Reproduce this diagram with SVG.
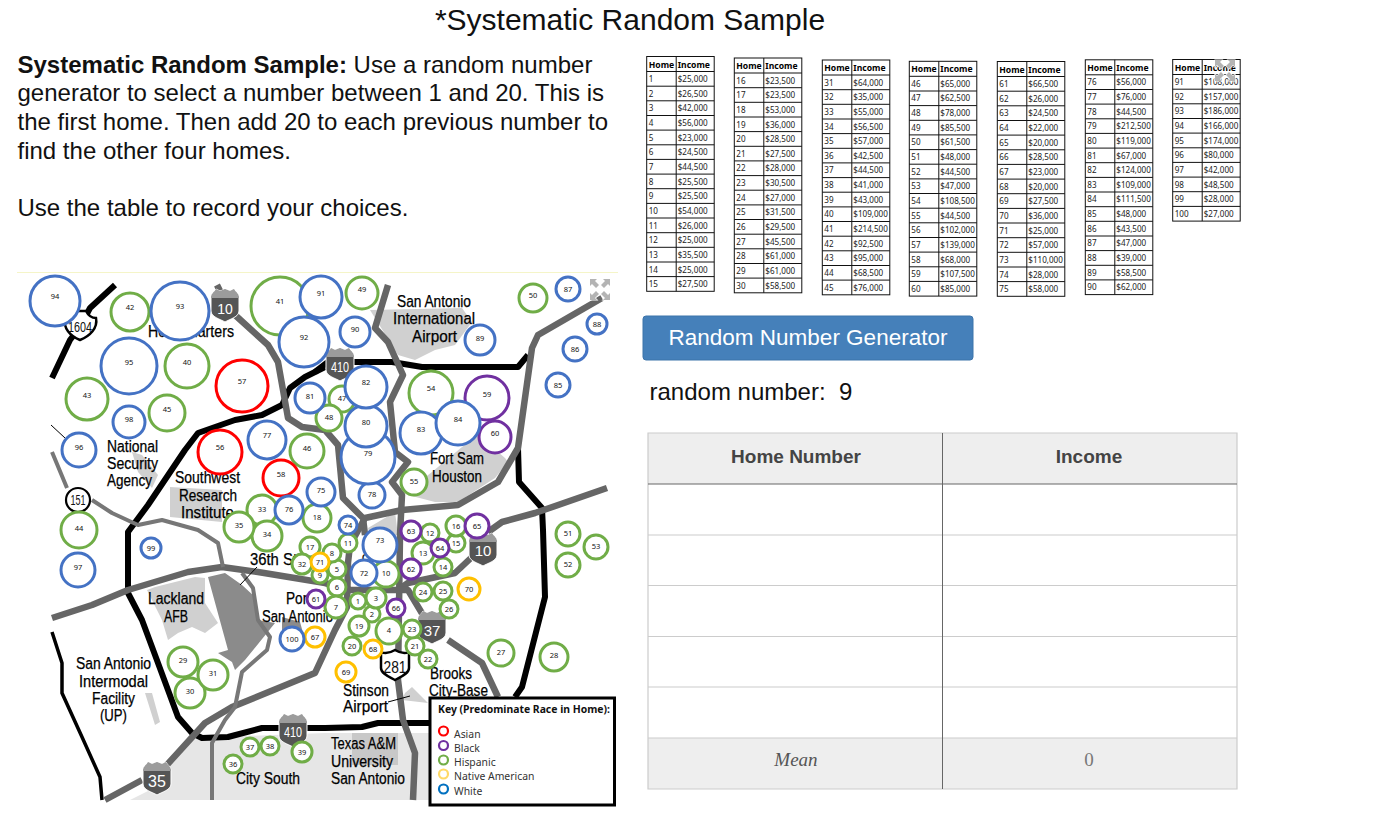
<svg xmlns="http://www.w3.org/2000/svg" width="1385" height="814" viewBox="0 0 1385 814">
<style>
text{font-family:"Liberation Sans",Arial,sans-serif}
.body{font-size:24px;fill:#111}
.cell text{font-family:"Noto Sans",sans-serif;font-size:8.1px;fill:#222}
.cell .h{font-weight:700;font-size:8.6px;fill:#000}
.gridline{fill:#fff;stroke:#111;stroke-width:1}
.rg{fill:none;stroke:#666;stroke-width:6.5;stroke-linejoin:round;stroke-linecap:butt}
.rg2{fill:none;stroke:#777;stroke-width:4;stroke-linejoin:round}
.rk{fill:none;stroke:#000;stroke-width:6;stroke-linejoin:round}
.thin{fill:none;stroke:#000;stroke-width:1}
.l1{fill:#d0d0d0}
.d1{fill:#8b8b8b}
.pl{font-size:16px;fill:#000;stroke:#000;stroke-width:.25px}
.b circle,.g circle,.r circle,.p circle,.y circle{fill:#fff;stroke-width:3}
.b circle{stroke:#4472c4}.g circle{stroke:#70ad47}.r circle{stroke:#ff0000}.p circle{stroke:#7030a0}.y circle{stroke:#ffc000}
.n text{font-family:"Noto Sans",sans-serif;font-size:7.5px;fill:#111;text-anchor:middle}
.ish{fill:#555;stroke:#fff;stroke-width:1}
.cap{fill:#9c9c9c}
.st{fill:#fff;text-anchor:middle}
.kt{font-family:"Noto Sans",sans-serif;font-size:10.4px;fill:#333}
.th{font-size:19px;font-weight:700;fill:#444;text-anchor:middle}
.tb{stroke:#ccc;stroke-width:1.2}
.td{stroke:#666;stroke-width:1}
.ic{fill:#b4b4b4;stroke:#fff;stroke-width:1.2;paint-order:stroke}
</style>
<defs>
<g id="grid15">
<rect class="gridline" x="0" y="0" width="67.5" height="234.8"/>
<path stroke="#111" stroke-width="1" d="M29.5,0V234.8M0,15H67.5M0,29.7H67.5M0,44.3H67.5M0,59H67.5M0,73.6H67.5M0,88.3H67.5M0,102.9H67.5M0,117.6H67.5M0,132.2H67.5M0,146.9H67.5M0,161.5H67.5M0,176.2H67.5M0,190.8H67.5M0,205.5H67.5M0,220.1H67.5"/>
</g>
<g id="grid10">
<rect class="gridline" x="0" y="0" width="67.5" height="161.6"/>
<path stroke="#111" stroke-width="1" d="M29.5,0V161.6M0,15H67.5M0,29.7H67.5M0,44.3H67.5M0,59H67.5M0,73.6H67.5M0,88.3H67.5M0,102.9H67.5M0,117.6H67.5M0,132.2H67.5M0,146.9H67.5"/>
</g>
<g id="ishield">
<path class="ish" d="M-14,-8C-14,-12-10,-13-9,-16L-5,-14 0,-16 5,-14 9,-16C10,-13 14,-12 14,-8L14,6C14,12 5,14 0,17C-5,14-14,12-14,6Z"/>
<path class="cap" d="M-14,-7C-14,-12-10,-13-9,-16L-5,-14 0,-16 5,-14 9,-16C10,-13 14,-12 14,-7Z"/>
</g>
<g id="expand">
<path class="ic" d="M0,0H7L5,2 9,6 6,9 2,5 0,7ZM20,0V7L18,5 14,9 11,6 15,2 13,0ZM0,21V14L2,16 6,12 9,15 5,19 7,21ZM20,21H13L15,19 11,15 14,12 18,16 20,14Z"/>
</g>
</defs>
<rect width="1385" height="814" fill="#fff"/>
<text x="630" y="30" text-anchor="middle" font-size="30" fill="#111">*Systematic Random Sample</text>
<g id="instructions" class="body">
<text class="body" x="17.5" y="73"><tspan font-weight="700">Systematic Random Sample:</tspan> Use a random number</text>
<text class="body" x="17.5" y="101">generator to select a number between 1 and 20. This is</text>
<text class="body" x="17.5" y="130">the first home. Then add 20 to each previous number to</text>
<text class="body" x="17.5" y="159">find the other four homes.</text>
<text class="body" x="17.5" y="216">Use the table to record your choices.</text>
</g>

<g id="t1" class="cell" transform="translate(646.7,56.5)"><use href="#grid15"/>
<text class="h" x="2" y="11">Home</text><text class="h" x="31" y="11">Income</text>
<text x="2" y="25.5">1</text><text x="31" y="25.5">$25,000</text><text x="2" y="40.2">2</text><text x="31" y="40.2">$26,500</text><text x="2" y="54.8">3</text><text x="31" y="54.8">$42,000</text><text x="2" y="69.5">4</text><text x="31" y="69.5">$56,000</text><text x="2" y="84.1">5</text><text x="31" y="84.1">$23,000</text><text x="2" y="98.8">6</text><text x="31" y="98.8">$24,500</text><text x="2" y="113.4">7</text><text x="31" y="113.4">$44,500</text><text x="2" y="128.1">8</text><text x="31" y="128.1">$25,500</text><text x="2" y="142.7">9</text><text x="31" y="142.7">$25,500</text><text x="2" y="157.4">10</text><text x="31" y="157.4">$54,000</text><text x="2" y="172">11</text><text x="31" y="172">$26,000</text><text x="2" y="186.7">12</text><text x="31" y="186.7">$25,000</text><text x="2" y="201.3">13</text><text x="31" y="201.3">$35,500</text><text x="2" y="216">14</text><text x="31" y="216">$25,000</text><text x="2" y="230.6">15</text><text x="31" y="230.6">$27,500</text>
</g>
<g id="t2" class="cell" transform="translate(734.3,58)"><use href="#grid15"/>
<text class="h" x="2" y="11">Home</text><text class="h" x="31" y="11">Income</text>
<text x="2" y="25.5">16</text><text x="31" y="25.5">$23,500</text><text x="2" y="40.2">17</text><text x="31" y="40.2">$23,500</text><text x="2" y="54.8">18</text><text x="31" y="54.8">$53,000</text><text x="2" y="69.5">19</text><text x="31" y="69.5">$36,000</text><text x="2" y="84.1">20</text><text x="31" y="84.1">$28,500</text><text x="2" y="98.8">21</text><text x="31" y="98.8">$27,500</text><text x="2" y="113.4">22</text><text x="31" y="113.4">$28,000</text><text x="2" y="128.1">23</text><text x="31" y="128.1">$30,500</text><text x="2" y="142.7">24</text><text x="31" y="142.7">$27,000</text><text x="2" y="157.4">25</text><text x="31" y="157.4">$31,500</text><text x="2" y="172">26</text><text x="31" y="172">$29,500</text><text x="2" y="186.7">27</text><text x="31" y="186.7">$45,500</text><text x="2" y="201.3">28</text><text x="31" y="201.3">$61,000</text><text x="2" y="216">29</text><text x="31" y="216">$61,000</text><text x="2" y="230.6">30</text><text x="31" y="230.6">$58,500</text>
</g>
<g id="t3" class="cell" transform="translate(822.3,60)"><use href="#grid15"/>
<text class="h" x="2" y="11">Home</text><text class="h" x="31" y="11">Income</text>
<text x="2" y="25.5">31</text><text x="31" y="25.5">$64,000</text><text x="2" y="40.2">32</text><text x="31" y="40.2">$35,000</text><text x="2" y="54.8">33</text><text x="31" y="54.8">$55,000</text><text x="2" y="69.5">34</text><text x="31" y="69.5">$56,500</text><text x="2" y="84.1">35</text><text x="31" y="84.1">$57,000</text><text x="2" y="98.8">36</text><text x="31" y="98.8">$42,500</text><text x="2" y="113.4">37</text><text x="31" y="113.4">$44,500</text><text x="2" y="128.1">38</text><text x="31" y="128.1">$41,000</text><text x="2" y="142.7">39</text><text x="31" y="142.7">$43,000</text><text x="2" y="157.4">40</text><text x="31" y="157.4">$109,000</text><text x="2" y="172">41</text><text x="31" y="172">$214,500</text><text x="2" y="186.7">42</text><text x="31" y="186.7">$92,500</text><text x="2" y="201.3">43</text><text x="31" y="201.3">$95,000</text><text x="2" y="216">44</text><text x="31" y="216">$68,500</text><text x="2" y="230.6">45</text><text x="31" y="230.6">$76,000</text>
</g>
<g id="t4" class="cell" transform="translate(909.3,61.3)"><use href="#grid15"/>
<text class="h" x="2" y="11">Home</text><text class="h" x="31" y="11">Income</text>
<text x="2" y="25.5">46</text><text x="31" y="25.5">$65,000</text><text x="2" y="40.2">47</text><text x="31" y="40.2">$62,500</text><text x="2" y="54.8">48</text><text x="31" y="54.8">$78,000</text><text x="2" y="69.5">49</text><text x="31" y="69.5">$85,500</text><text x="2" y="84.1">50</text><text x="31" y="84.1">$61,500</text><text x="2" y="98.8">51</text><text x="31" y="98.8">$48,000</text><text x="2" y="113.4">52</text><text x="31" y="113.4">$44,500</text><text x="2" y="128.1">53</text><text x="31" y="128.1">$47,000</text><text x="2" y="142.7">54</text><text x="31" y="142.7">$108,500</text><text x="2" y="157.4">55</text><text x="31" y="157.4">$44,500</text><text x="2" y="172">56</text><text x="31" y="172">$102,000</text><text x="2" y="186.7">57</text><text x="31" y="186.7">$139,000</text><text x="2" y="201.3">58</text><text x="31" y="201.3">$68,000</text><text x="2" y="216">59</text><text x="31" y="216">$107,500</text><text x="2" y="230.6">60</text><text x="31" y="230.6">$85,000</text>
</g>
<g id="t5" class="cell" transform="translate(997.3,61.5)"><use href="#grid15"/>
<text class="h" x="2" y="11">Home</text><text class="h" x="31" y="11">Income</text>
<text x="2" y="25.5">61</text><text x="31" y="25.5">$66,500</text><text x="2" y="40.2">62</text><text x="31" y="40.2">$26,000</text><text x="2" y="54.8">63</text><text x="31" y="54.8">$24,500</text><text x="2" y="69.5">64</text><text x="31" y="69.5">$22,000</text><text x="2" y="84.1">65</text><text x="31" y="84.1">$20,000</text><text x="2" y="98.8">66</text><text x="31" y="98.8">$28,500</text><text x="2" y="113.4">67</text><text x="31" y="113.4">$23,000</text><text x="2" y="128.1">68</text><text x="31" y="128.1">$20,000</text><text x="2" y="142.7">69</text><text x="31" y="142.7">$27,500</text><text x="2" y="157.4">70</text><text x="31" y="157.4">$36,000</text><text x="2" y="172">71</text><text x="31" y="172">$25,000</text><text x="2" y="186.7">72</text><text x="31" y="186.7">$57,000</text><text x="2" y="201.3">73</text><text x="31" y="201.3">$110,000</text><text x="2" y="216">74</text><text x="31" y="216">$28,000</text><text x="2" y="230.6">75</text><text x="31" y="230.6">$58,000</text>
</g>
<g id="t6" class="cell" transform="translate(1085.3,59.8)"><use href="#grid15"/>
<text class="h" x="2" y="11">Home</text><text class="h" x="31" y="11">Income</text>
<text x="2" y="25.5">76</text><text x="31" y="25.5">$56,000</text><text x="2" y="40.2">77</text><text x="31" y="40.2">$76,000</text><text x="2" y="54.8">78</text><text x="31" y="54.8">$44,500</text><text x="2" y="69.5">79</text><text x="31" y="69.5">$212,500</text><text x="2" y="84.1">80</text><text x="31" y="84.1">$119,000</text><text x="2" y="98.8">81</text><text x="31" y="98.8">$67,000</text><text x="2" y="113.4">82</text><text x="31" y="113.4">$124,000</text><text x="2" y="128.1">83</text><text x="31" y="128.1">$109,000</text><text x="2" y="142.7">84</text><text x="31" y="142.7">$111,500</text><text x="2" y="157.4">85</text><text x="31" y="157.4">$48,000</text><text x="2" y="172">86</text><text x="31" y="172">$43,500</text><text x="2" y="186.7">87</text><text x="31" y="186.7">$47,000</text><text x="2" y="201.3">88</text><text x="31" y="201.3">$39,000</text><text x="2" y="216">89</text><text x="31" y="216">$58,500</text><text x="2" y="230.6">90</text><text x="31" y="230.6">$62,000</text>
</g>
<g id="t7" class="cell" transform="translate(1172.7,59.5)"><use href="#grid10"/>
<text class="h" x="2" y="11">Home</text><text class="h" x="31" y="11">Income</text>
<text x="2" y="25.5">91</text><text x="31" y="25.5">$108,000</text><text x="2" y="40.2">92</text><text x="31" y="40.2">$157,000</text><text x="2" y="54.8">93</text><text x="31" y="54.8">$186,000</text><text x="2" y="69.5">94</text><text x="31" y="69.5">$166,000</text><text x="2" y="84.1">95</text><text x="31" y="84.1">$174,000</text><text x="2" y="98.8">96</text><text x="31" y="98.8">$80,000</text><text x="2" y="113.4">97</text><text x="31" y="113.4">$42,000</text><text x="2" y="128.1">98</text><text x="31" y="128.1">$48,500</text><text x="2" y="142.7">99</text><text x="31" y="142.7">$28,000</text><text x="2" y="157.4">100</text><text x="31" y="157.4">$27,000</text>
</g>
<use href="#expand" x="1215" y="60"/>

<g id="button">
<rect x="643" y="316" width="330" height="44" rx="3" fill="#4580ba" stroke="#3d74aa"/>
<text x="808" y="345" text-anchor="middle" font-size="22.5" fill="#fff">Random Number Generator</text>
</g>
<text class="body" x="649.5" y="400" style="white-space:pre">random number:  9</text>

<g id="record-table">
<rect x="648" y="433" width="589" height="51" fill="#eee"/>
<rect x="648" y="738" width="589" height="51" fill="#eee"/>
<path class="tb" fill="none" d="M648,433H1237V789H648ZM648,535H1237M648,585.5H1237M648,636.5H1237M648,687H1237M648,738H1237"/>
<path class="td" d="M648,484H1237M942.5,433V789"/>
<text class="th" x="796" y="463">Home Number</text>
<text class="th" x="1089" y="463">Income</text>
<text x="796" y="766" text-anchor="middle" font-size="19" font-style="italic" fill="#555" style="font-family:'Liberation Serif',serif">Mean</text>
<text x="1089" y="766" text-anchor="middle" font-size="19" fill="#777" style="font-family:'Liberation Serif',serif">0</text>
</g>

<g id="map">
<path d="M17,272.5H618" stroke="#f5f5c8" stroke-width="1.2"/>
<g id="areas">
<path fill="#e6e6e6" d="M167,760L192,738L325,733H430V800H130L150,790Z"/>
<path class="l1" d="M132,452L142,455L158,475L152,488L138,472Z"/>
<path class="l1" d="M170,487L222,490V522L170,517Z"/>
<path class="l1" d="M370,310L462,308L472,322L455,345L435,350L415,360L398,355Z"/>
<path class="l1" d="M468,442L478,435L505,458L508,462L495,478L458,502L435,502L408,495L415,485L432,472Z"/>
<path class="l1" d="M147,590L155,587L195,577L205,578L205,603L218,623L205,633L192,627L178,633L168,640L162,620Z"/>
<path class="d1" d="M208,577L225,573L242,585L255,597L258,620L275,623L245,660L235,670L232,662L218,653L228,650Z"/>
<path class="d1" d="M282,617L300,622L305,640H282Z"/>
<path class="l1" d="M145,693L152,693L160,722L155,725Z"/>
<path fill="#c8c8c8" d="M352,733H398V765H352Z"/>
<path class="l1" d="M368,528L395,512L398,535H370Z"/>
<path class="l1" d="M405,693L412,687L428,703L402,700Z"/>
</g>
<g id="connectors">
<path class="rk" d="M115,285L90,308L80,327L70,340L52,378"/>
<path class="rk" d="M325,367L305,377L290,388L282,405L262,415L235,420L198,433L185,450L148,505L128,532V593L142,620L158,663L178,717L192,733L202,738L228,737L262,728H325L362,727L378,723H430"/>
<path class="rk" d="M315,372L328,362H392L422,367H518L528,355"/>
<path class="rk" d="M518,448L519,482L542,508L543,530L545,597L522,687L515,697"/>
<path class="thin" style="stroke-width:3.5" d="M52,632L62,663V693L82,737L100,777L102,800"/>
<path class="rg" d="M217,285L222,295M235,315L268,345L278,362L288,418L302,427L325,430L338,445L343,498L363,518L365,535"/>
<path class="rg" d="M388,285L375,328L388,342L403,375L390,402L395,452L408,462L392,482L402,495L400,535L398,680L403,720L415,753L413,800"/>
<path class="rg" d="M602,298L538,335L532,348L518,448L498,482L458,505L402,510L365,518L350,545L348,563L347,607L335,630L315,673L232,707L205,723L165,767M142,780L105,800"/>
<path class="rg" d="M607,488L535,513L502,522L488,532M472,557L455,573L408,583L398,590"/>
<path class="rg" d="M348,590H408L432,630M448,640L482,663L498,697"/>
<path class="rg" d="M52,618L92,605L128,590L188,572L222,567L258,572L325,583L350,590"/>
<path class="rg2" d="M52,452L67,488M92,500L112,513L138,525L162,520L198,530L218,543L223,567"/>
<path class="rg2" d="M242,573L253,588L258,620L270,637L267,650L242,672L235,707L225,720L212,743V800"/>
<path class="thin" d="M51,425L65,438M257,567L240,585M388,702L410,696"/>
</g>
<g id="shields">
<use href="#ishield" x="225" y="305"/><text class="st" x="225" y="314" font-size="14">10</text>
<use href="#ishield" x="340" y="364"/><text class="st" x="340" y="372" font-size="14" textLength="18" lengthAdjust="spacingAndGlyphs">410</text>
<use href="#ishield" x="293" y="730"/><text class="st" x="293" y="737" font-size="14" textLength="18" lengthAdjust="spacingAndGlyphs">410</text>
<use href="#ishield" x="157" y="778"/><text class="st" x="157" y="787" font-size="16">35</text>
<use href="#ishield" x="483" y="549"/><text class="st" x="483" y="556" font-size="15">10</text>
<use href="#ishield" x="432" y="627"/><text class="st" x="432" y="636" font-size="15">37</text>
<path fill="#fff" stroke="#000" stroke-width="2.5" d="M65,318C69,318 73,315 75,311H86C88,315 92,318 96,318C98,328 90,336 80,340C70,336 63,328 65,318Z"/><text x="80" y="332" text-anchor="middle" font-size="14" textLength="24" lengthAdjust="spacingAndGlyphs" fill="#111">1604</text>
<circle cx="78" cy="500" r="12" fill="#fff" stroke="#000" stroke-width="2.2"/><text x="78" y="505" text-anchor="middle" font-size="14" textLength="15" lengthAdjust="spacingAndGlyphs" fill="#111">151</text>
<path fill="#fff" stroke="#000" stroke-width="2.5" d="M381,652C385,654 390,653 395,650C400,653 405,654 409,652V668C409,674 400,677 395,680C390,677 381,674 381,668Z"/><text x="395" y="673" text-anchor="middle" font-size="16" textLength="23" lengthAdjust="spacingAndGlyphs" fill="#111">281</text>
</g>
<g id="map-labels">
<text class="pl" x="397" y="307" textLength="74" lengthAdjust="spacingAndGlyphs">San Antonio</text>
<text class="pl" x="393" y="324" textLength="82" lengthAdjust="spacingAndGlyphs">International</text>
<text class="pl" x="412" y="342" textLength="45" lengthAdjust="spacingAndGlyphs">Airport</text>
<text class="pl" x="148" y="337" textLength="86" lengthAdjust="spacingAndGlyphs">Headquarters</text>
<text class="pl" x="107" y="452" textLength="51" lengthAdjust="spacingAndGlyphs">National</text>
<text class="pl" x="107" y="469" textLength="51" lengthAdjust="spacingAndGlyphs">Security</text>
<text class="pl" x="107" y="486" textLength="45" lengthAdjust="spacingAndGlyphs">Agency</text>
<text class="pl" x="175" y="483" textLength="65" lengthAdjust="spacingAndGlyphs">Southwest</text>
<text class="pl" x="179" y="501" textLength="58" lengthAdjust="spacingAndGlyphs">Research</text>
<text class="pl" x="181" y="518" textLength="53" lengthAdjust="spacingAndGlyphs">Institute</text>
<text class="pl" x="430" y="464" textLength="54" lengthAdjust="spacingAndGlyphs">Fort Sam</text>
<text class="pl" x="432" y="482" textLength="50" lengthAdjust="spacingAndGlyphs">Houston</text>
<text class="pl" x="250" y="565" textLength="47" lengthAdjust="spacingAndGlyphs">36th St</text>
<text class="pl" x="148" y="604" textLength="56" lengthAdjust="spacingAndGlyphs">Lackland</text>
<text class="pl" x="164" y="622" textLength="24" lengthAdjust="spacingAndGlyphs">AFB</text>
<text class="pl" x="286" y="604" textLength="25" lengthAdjust="spacingAndGlyphs">Port</text>
<text class="pl" x="262" y="622" textLength="71" lengthAdjust="spacingAndGlyphs">San Antonio</text>
<text class="pl" x="76" y="669" textLength="75" lengthAdjust="spacingAndGlyphs">San Antonio</text>
<text class="pl" x="79" y="687" textLength="69" lengthAdjust="spacingAndGlyphs">Intermodal</text>
<text class="pl" x="92" y="704" textLength="43" lengthAdjust="spacingAndGlyphs">Facility</text>
<text class="pl" x="100" y="721" textLength="27" lengthAdjust="spacingAndGlyphs">(UP)</text>
<text class="pl" x="236" y="784" textLength="64" lengthAdjust="spacingAndGlyphs">City South</text>
<text class="pl" x="343" y="696" textLength="46" lengthAdjust="spacingAndGlyphs">Stinson</text>
<text class="pl" x="343" y="712" textLength="45" lengthAdjust="spacingAndGlyphs">Airport</text>
<text class="pl" x="430" y="679" textLength="42" lengthAdjust="spacingAndGlyphs">Brooks</text>
<text class="pl" x="429" y="696" textLength="59" lengthAdjust="spacingAndGlyphs">City-Base</text>
<text class="pl" x="331" y="749" textLength="65" lengthAdjust="spacingAndGlyphs">Texas A&amp;M</text>
<text class="pl" x="331" y="767" textLength="62" lengthAdjust="spacingAndGlyphs">University</text>
<text class="pl" x="331" y="784" textLength="74" lengthAdjust="spacingAndGlyphs">San Antonio</text>
<text class="pl" x="362" y="562" style="font-size:10px">Cen</text>
</g>
<g id="homes" class="n">
<g id="h1" class="g"><circle cx="358" cy="601" r="8"/><text x="358" y="603.5">1</text></g>
<g id="h2" class="g"><circle cx="372" cy="614" r="8"/><text x="372" y="616.5">2</text></g>
<g id="h3" class="g"><circle cx="376" cy="598" r="10"/><text x="376" y="600.5">3</text></g>
<g id="h4" class="g"><circle cx="389" cy="631" r="13"/><text x="389" y="633">4</text></g>
<g id="h5" class="g"><circle cx="337" cy="569" r="9"/><text x="337" y="571.5">5</text></g>
<g id="h6" class="g"><circle cx="337" cy="587" r="9"/><text x="337" y="589.5">6</text></g>
<g id="h7" class="g"><circle cx="336" cy="607" r="11"/><text x="336" y="609.5">7</text></g>
<g id="h8" class="g"><circle cx="332" cy="553" r="9"/><text x="332" y="555.5">8</text></g>
<g id="h9" class="g"><circle cx="320" cy="575" r="8"/><text x="320" y="577.5">9</text></g>
<g id="h10" class="g"><circle cx="386" cy="574" r="13"/><text x="386" y="576">10</text></g>
<g id="h11" class="g"><circle cx="348" cy="543" r="9"/><text x="348" y="545.5">11</text></g>
<g id="h12" class="g"><circle cx="430" cy="533" r="9"/><text x="430" y="535.5">12</text></g>
<g id="h13" class="g"><circle cx="423" cy="553" r="11"/><text x="423" y="555.5">13</text></g>
<g id="h14" class="g"><circle cx="443" cy="567" r="9"/><text x="443" y="569.5">14</text></g>
<g id="h15" class="g"><circle cx="456" cy="543" r="9"/><text x="456" y="545.5">15</text></g>
<g id="h16" class="g"><circle cx="456" cy="526" r="10"/><text x="456" y="528.5">16</text></g>
<g id="h17" class="g"><circle cx="310" cy="547" r="10"/><text x="310" y="549.5">17</text></g>
<g id="h18" class="g"><circle cx="317" cy="518" r="14"/><text x="317" y="520">18</text></g>
<g id="h19" class="g"><circle cx="359" cy="626" r="10"/><text x="359" y="628.5">19</text></g>
<g id="h20" class="g"><circle cx="352" cy="646" r="9"/><text x="352" y="648.5">20</text></g>
<g id="h21" class="g"><circle cx="415" cy="646" r="9"/><text x="415" y="648.5">21</text></g>
<g id="h22" class="g"><circle cx="428" cy="659" r="9"/><text x="428" y="661.5">22</text></g>
<g id="h23" class="g"><circle cx="412" cy="629" r="9"/><text x="412" y="631.5">23</text></g>
<g id="h24" class="g"><circle cx="423" cy="592" r="9"/><text x="423" y="594.5">24</text></g>
<g id="h25" class="g"><circle cx="443" cy="591" r="9"/><text x="443" y="593.5">25</text></g>
<g id="h26" class="g"><circle cx="449" cy="609" r="9"/><text x="449" y="611.5">26</text></g>
<g id="h27" class="g"><circle cx="501" cy="653" r="13"/><text x="501" y="655">27</text></g>
<g id="h28" class="g"><circle cx="554" cy="657" r="14"/><text x="554" y="658">28</text></g>
<g id="h29" class="g"><circle cx="183" cy="662" r="15"/><text x="183" y="663">29</text></g>
<g id="h30" class="g"><circle cx="190" cy="693" r="15"/><text x="190" y="694">30</text></g>
<g id="h31" class="g"><circle cx="213" cy="675" r="15"/><text x="213" y="676">31</text></g>
<g id="h32" class="g"><circle cx="302" cy="564" r="10"/><text x="302" y="566.5">32</text></g>
<g id="h33" class="g"><circle cx="262" cy="510" r="15"/><text x="262" y="511.5">33</text></g>
<g id="h34" class="g"><circle cx="267" cy="536" r="15"/><text x="267" y="537">34</text></g>
<g id="h35" class="g"><circle cx="239" cy="527" r="15"/><text x="239" y="528">35</text></g>
<g id="h36" class="g"><circle cx="233" cy="764" r="9"/><text x="233" y="767">36</text></g>
<g id="h37" class="g"><circle cx="250" cy="747" r="9"/><text x="250" y="750">37</text></g>
<g id="h38" class="g"><circle cx="270" cy="746" r="9"/><text x="270" y="749">38</text></g>
<g id="h39" class="g"><circle cx="302" cy="752" r="10"/><text x="302" y="755">39</text></g>
<g id="h40" class="g"><circle cx="187" cy="366" r="22"/><text x="187" y="365">40</text></g>
<g id="h41" class="g"><circle cx="280" cy="306" r="29"/><text x="280" y="304">41</text></g>
<g id="h42" class="g"><circle cx="130" cy="312" r="19"/><text x="130" y="310">42</text></g>
<g id="h43" class="g"><circle cx="87" cy="399" r="21"/><text x="87" y="398">43</text></g>
<g id="h44" class="g"><circle cx="79" cy="530" r="18"/><text x="79" y="531">44</text></g>
<g id="h45" class="g"><circle cx="167" cy="413" r="18"/><text x="167" y="412">45</text></g>
<g id="h46" class="g"><circle cx="307" cy="451" r="17"/><text x="307" y="451">46</text></g>
<g id="h47" class="g"><circle cx="342" cy="399" r="13"/><text x="342" y="401">47</text></g>
<g id="h48" class="g"><circle cx="329" cy="418" r="13"/><text x="329" y="420">48</text></g>
<g id="h49" class="g"><circle cx="362" cy="293" r="16"/><text x="362" y="292">49</text></g>
<g id="h50" class="g"><circle cx="533" cy="298" r="14"/><text x="533" y="298">50</text></g>
<g id="h51" class="g"><circle cx="568" cy="534" r="12"/><text x="568" y="536">51</text></g>
<g id="h52" class="g"><circle cx="568" cy="565" r="12"/><text x="568" y="567">52</text></g>
<g id="h53" class="g"><circle cx="596" cy="547" r="12"/><text x="596" y="549">53</text></g>
<g id="h54" class="g"><circle cx="431" cy="393" r="22"/><text x="431" y="391">54</text></g>
<g id="h55" class="g"><circle cx="414" cy="482" r="13"/><text x="414" y="484">55</text></g>
<g id="h56" class="r"><circle cx="220" cy="452" r="22"/><text x="220" y="450">56</text></g>
<g id="h57" class="r"><circle cx="242" cy="386" r="26"/><text x="242" y="384">57</text></g>
<g id="h58" class="r"><circle cx="281" cy="478" r="18"/><text x="281" y="477">58</text></g>
<g id="h59" class="p"><circle cx="487" cy="398" r="22"/><text x="487" y="397">59</text></g>
<g id="h60" class="p"><circle cx="495" cy="437" r="16"/><text x="495" y="436">60</text></g>
<g id="h61" class="p"><circle cx="316" cy="599" r="9"/><text x="316" y="601.5">61</text></g>
<g id="h62" class="p"><circle cx="411" cy="569" r="10"/><text x="411" y="571.5">62</text></g>
<g id="h63" class="p"><circle cx="411" cy="531" r="10"/><text x="411" y="533.5">63</text></g>
<g id="h64" class="p"><circle cx="440" cy="548" r="9"/><text x="440" y="550.5">64</text></g>
<g id="h65" class="p"><circle cx="477" cy="526" r="12"/><text x="477" y="528.5">65</text></g>
<g id="h66" class="p"><circle cx="396" cy="608" r="9"/><text x="396" y="610.5">66</text></g>
<g id="h67" class="y"><circle cx="315" cy="637" r="10"/><text x="315" y="639.5">67</text></g>
<g id="h68" class="y"><circle cx="373" cy="649" r="9"/><text x="373" y="651.5">68</text></g>
<g id="h69" class="y"><circle cx="346" cy="672" r="10"/><text x="346" y="674.5">69</text></g>
<g id="h70" class="y"><circle cx="469" cy="589" r="11"/><text x="469" y="591.5">70</text></g>
<g id="h71" class="y"><circle cx="320" cy="562" r="9"/><text x="320" y="564.5">71</text></g>
<g id="h72" class="b"><circle cx="364" cy="573" r="13"/><text x="364" y="575.5">72</text></g>
<g id="h73" class="b"><circle cx="380" cy="545" r="17"/><text x="380" y="543">73</text></g>
<g id="h74" class="b"><circle cx="348" cy="525" r="9"/><text x="348" y="527.5">74</text></g>
<g id="h75" class="b"><circle cx="321" cy="492" r="14"/><text x="321" y="493">75</text></g>
<g id="h76" class="b"><circle cx="289" cy="510" r="14"/><text x="289" y="511.5">76</text></g>
<g id="h77" class="b"><circle cx="267" cy="440" r="19"/><text x="267" y="438">77</text></g>
<g id="h78" class="b"><circle cx="372" cy="495" r="13"/><text x="372" y="497">78</text></g>
<g id="h79" class="b"><circle cx="368" cy="457" r="27"/><text x="368" y="456">79</text></g>
<g id="h80" class="b"><circle cx="366" cy="426" r="21"/><text x="366" y="425">80</text></g>
<g id="h81" class="b"><circle cx="310" cy="398" r="15"/><text x="310" y="399">81</text></g>
<g id="h82" class="b"><circle cx="366" cy="387" r="21"/><text x="366" y="385">82</text></g>
<g id="h83" class="b"><circle cx="421" cy="433" r="21"/><text x="421" y="432">83</text></g>
<g id="h84" class="b"><circle cx="458" cy="423" r="22"/><text x="458" y="422">84</text></g>
<g id="h85" class="b"><circle cx="558" cy="385" r="12"/><text x="558" y="387.5">85</text></g>
<g id="h86" class="b"><circle cx="575" cy="349" r="12"/><text x="575" y="351.5">86</text></g>
<g id="h87" class="b"><circle cx="568" cy="289" r="12"/><text x="568" y="291.5">87</text></g>
<g id="h88" class="b"><circle cx="597" cy="324" r="10"/><text x="597" y="326.5">88</text></g>
<g id="h89" class="b"><circle cx="480" cy="340" r="15"/><text x="480" y="341">89</text></g>
<g id="h90" class="b"><circle cx="355" cy="332" r="15"/><text x="355" y="332">90</text></g>
<g id="h91" class="b"><circle cx="321" cy="297" r="21"/><text x="321" y="296">91</text></g>
<g id="h92" class="b"><circle cx="304" cy="342" r="25"/><text x="304" y="340">92</text></g>
<g id="h93" class="b"><circle cx="180" cy="311" r="29"/><text x="180" y="309">93</text></g>
<g id="h94" class="b"><circle cx="55" cy="301" r="25"/><text x="55" y="299">94</text></g>
<g id="h95" class="b"><circle cx="129" cy="366" r="28"/><text x="129" y="365">95</text></g>
<g id="h96" class="b"><circle cx="79" cy="450" r="17"/><text x="79" y="449.5">96</text></g>
<g id="h97" class="b"><circle cx="78" cy="570" r="17"/><text x="78" y="570">97</text></g>
<g id="h98" class="b"><circle cx="129" cy="422" r="16"/><text x="129" y="422">98</text></g>
<g id="h99" class="b"><circle cx="151" cy="548" r="10"/><text x="151" y="550.5">99</text></g>
<g id="h100" class="b"><circle cx="292" cy="639" r="12"/><text x="292" y="641.5">100</text></g>
</g>
<use href="#expand" x="590" y="279"/>
<g id="key">
<rect x="430" y="698" width="184.5" height="107" fill="#fff" stroke="#000" stroke-width="3"/>
<text class="kt" x="438" y="713" style="font-weight:700;fill:#111">Key (Predominate Race in Home):</text>
<circle cx="443.5" cy="731" r="4.5" fill="none" stroke="#ff0000" stroke-width="2.2"/><text class="kt" x="454" y="737.5">Asian</text>
<circle cx="443.5" cy="745.5" r="4.5" fill="none" stroke="#7030a0" stroke-width="2.2"/><text class="kt" x="454" y="751.5">Black</text>
<circle cx="443.5" cy="760" r="4.5" fill="none" stroke="#70ad47" stroke-width="2.2"/><text class="kt" x="454" y="766">Hispanic</text>
<circle cx="443.5" cy="774" r="4.5" fill="none" stroke="#ffd966" stroke-width="2.2"/><text class="kt" x="454" y="780">Native American</text>
<circle cx="443.5" cy="789" r="4.5" fill="none" stroke="#0070c0" stroke-width="2.2"/><text class="kt" x="454" y="794.5">White</text>
</g>
</g>
</svg>
